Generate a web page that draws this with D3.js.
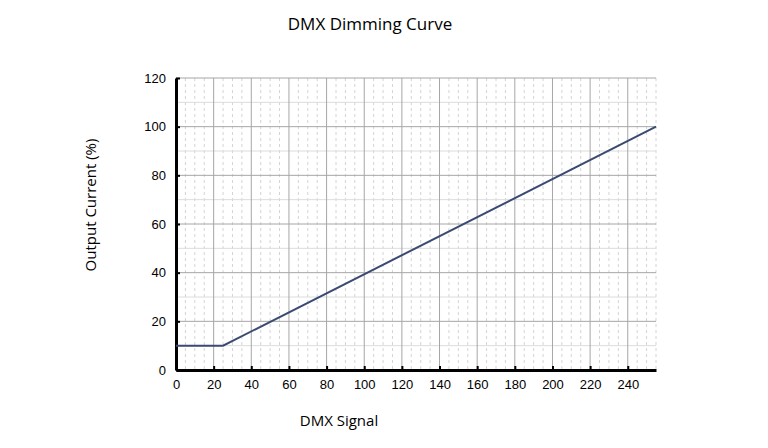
<!DOCTYPE html>
<html><head><meta charset="utf-8">
<script src="https://cdn.jsdelivr.net/npm/d3@7"></script>
<style>body{margin:0;background:#fff}text{font-family:"Segoe UI","Open Sans",Calibri,sans-serif}</style>
</head><body><div id="chart"></div>
<script>
// curve points (DMX value, output %)
var dmx = [0, 25, 255];
var current = [10, 10, 100];
var xTicks = d3.range(0, 241, 20);
var yTicks = d3.range(0, 121, 20);

var svg = d3.select("#chart").append("svg").attr("width", 768).attr("height", 448);
var margin = {top: 78, left: 176, right: 112, bottom: 78};
var width = 768 - margin.left - margin.right;
var height = 448 - margin.top - margin.bottom;
var g = svg.append("g").attr("transform", `translate(${margin.left},${margin.top})`);

var x = d3.scaleLinear().domain([0, 255]).range([0, width]);
var y = d3.scaleLinear().domain([0, 120]).range([height, 0]);

// minor dashed verticals every 5
g.selectAll(".vminor").data(d3.range(5, 256, 5).filter(d => d % 20)).enter().append("line")
    .attr("x1", d => x(d)).attr("x2", d => x(d)).attr("y1", 0).attr("y2", height)
    .attr("stroke", "#d4d4d4").attr("stroke-dasharray", "3,3");
// minor horizontals every 10
g.selectAll(".hminor").data(d3.range(10, 121, 20)).enter().append("line")
    .attr("x1", 0).attr("x2", width).attr("y1", d => y(d)).attr("y2", d => y(d))
    .attr("stroke", "#dcdcdc");
// major grid
g.selectAll(".vmajor").data(xTicks.slice(1)).enter().append("line")
    .attr("x1", d => x(d)).attr("x2", d => x(d)).attr("y1", 0).attr("y2", height)
    .attr("stroke", "#a6a6a6");
g.selectAll(".hmajor").data(yTicks.slice(1)).enter().append("line")
    .attr("x1", 0).attr("x2", width).attr("y1", d => y(d)).attr("y2", d => y(d))
    .attr("stroke", "#a6a6a6");

var xAxis = g.append("g").attr("transform", `translate(0,${height})`)
    .call(d3.axisBottom(x).tickValues(xTicks).tickSizeInner(-4).tickSizeOuter(0).tickPadding(10));
var yAxis = g.append("g")
    .call(d3.axisLeft(y).tickValues(yTicks).tickSizeInner(-4).tickSizeOuter(0).tickPadding(10));
[xAxis, yAxis].forEach(a => {
    a.select(".domain").attr("stroke", "#000").attr("stroke-width", 3);
    a.selectAll(".tick line").attr("stroke", "#000").attr("stroke-width", 2);
    a.selectAll("text").attr("font-size", 13).attr("fill", "#000").style("font-family", "Liberation Sans, Arial, sans-serif");
});
yAxis.selectAll(".tick text").attr("x", -10);

var line = d3.line().x((d, i) => x(dmx[i])).y((d, i) => y(current[i]));
g.append("path").datum(dmx).attr("d", line).attr("fill", "none")
    .attr("stroke", "#3b4a72").attr("stroke-width", 2);

svg.append("text").attr("x", 370).attr("y", 30).attr("text-anchor", "middle")
    .attr("font-size", 17).text("DMX Dimming Curve");
svg.append("text").attr("x", 339).attr("y", 426).attr("text-anchor", "middle")
    .attr("font-size", 15).text("DMX Signal");
svg.append("text").attr("transform", "translate(96,205) rotate(-90)").attr("text-anchor", "middle")
    .attr("font-size", 15).text("Output Current (%)");
</script></body></html>
